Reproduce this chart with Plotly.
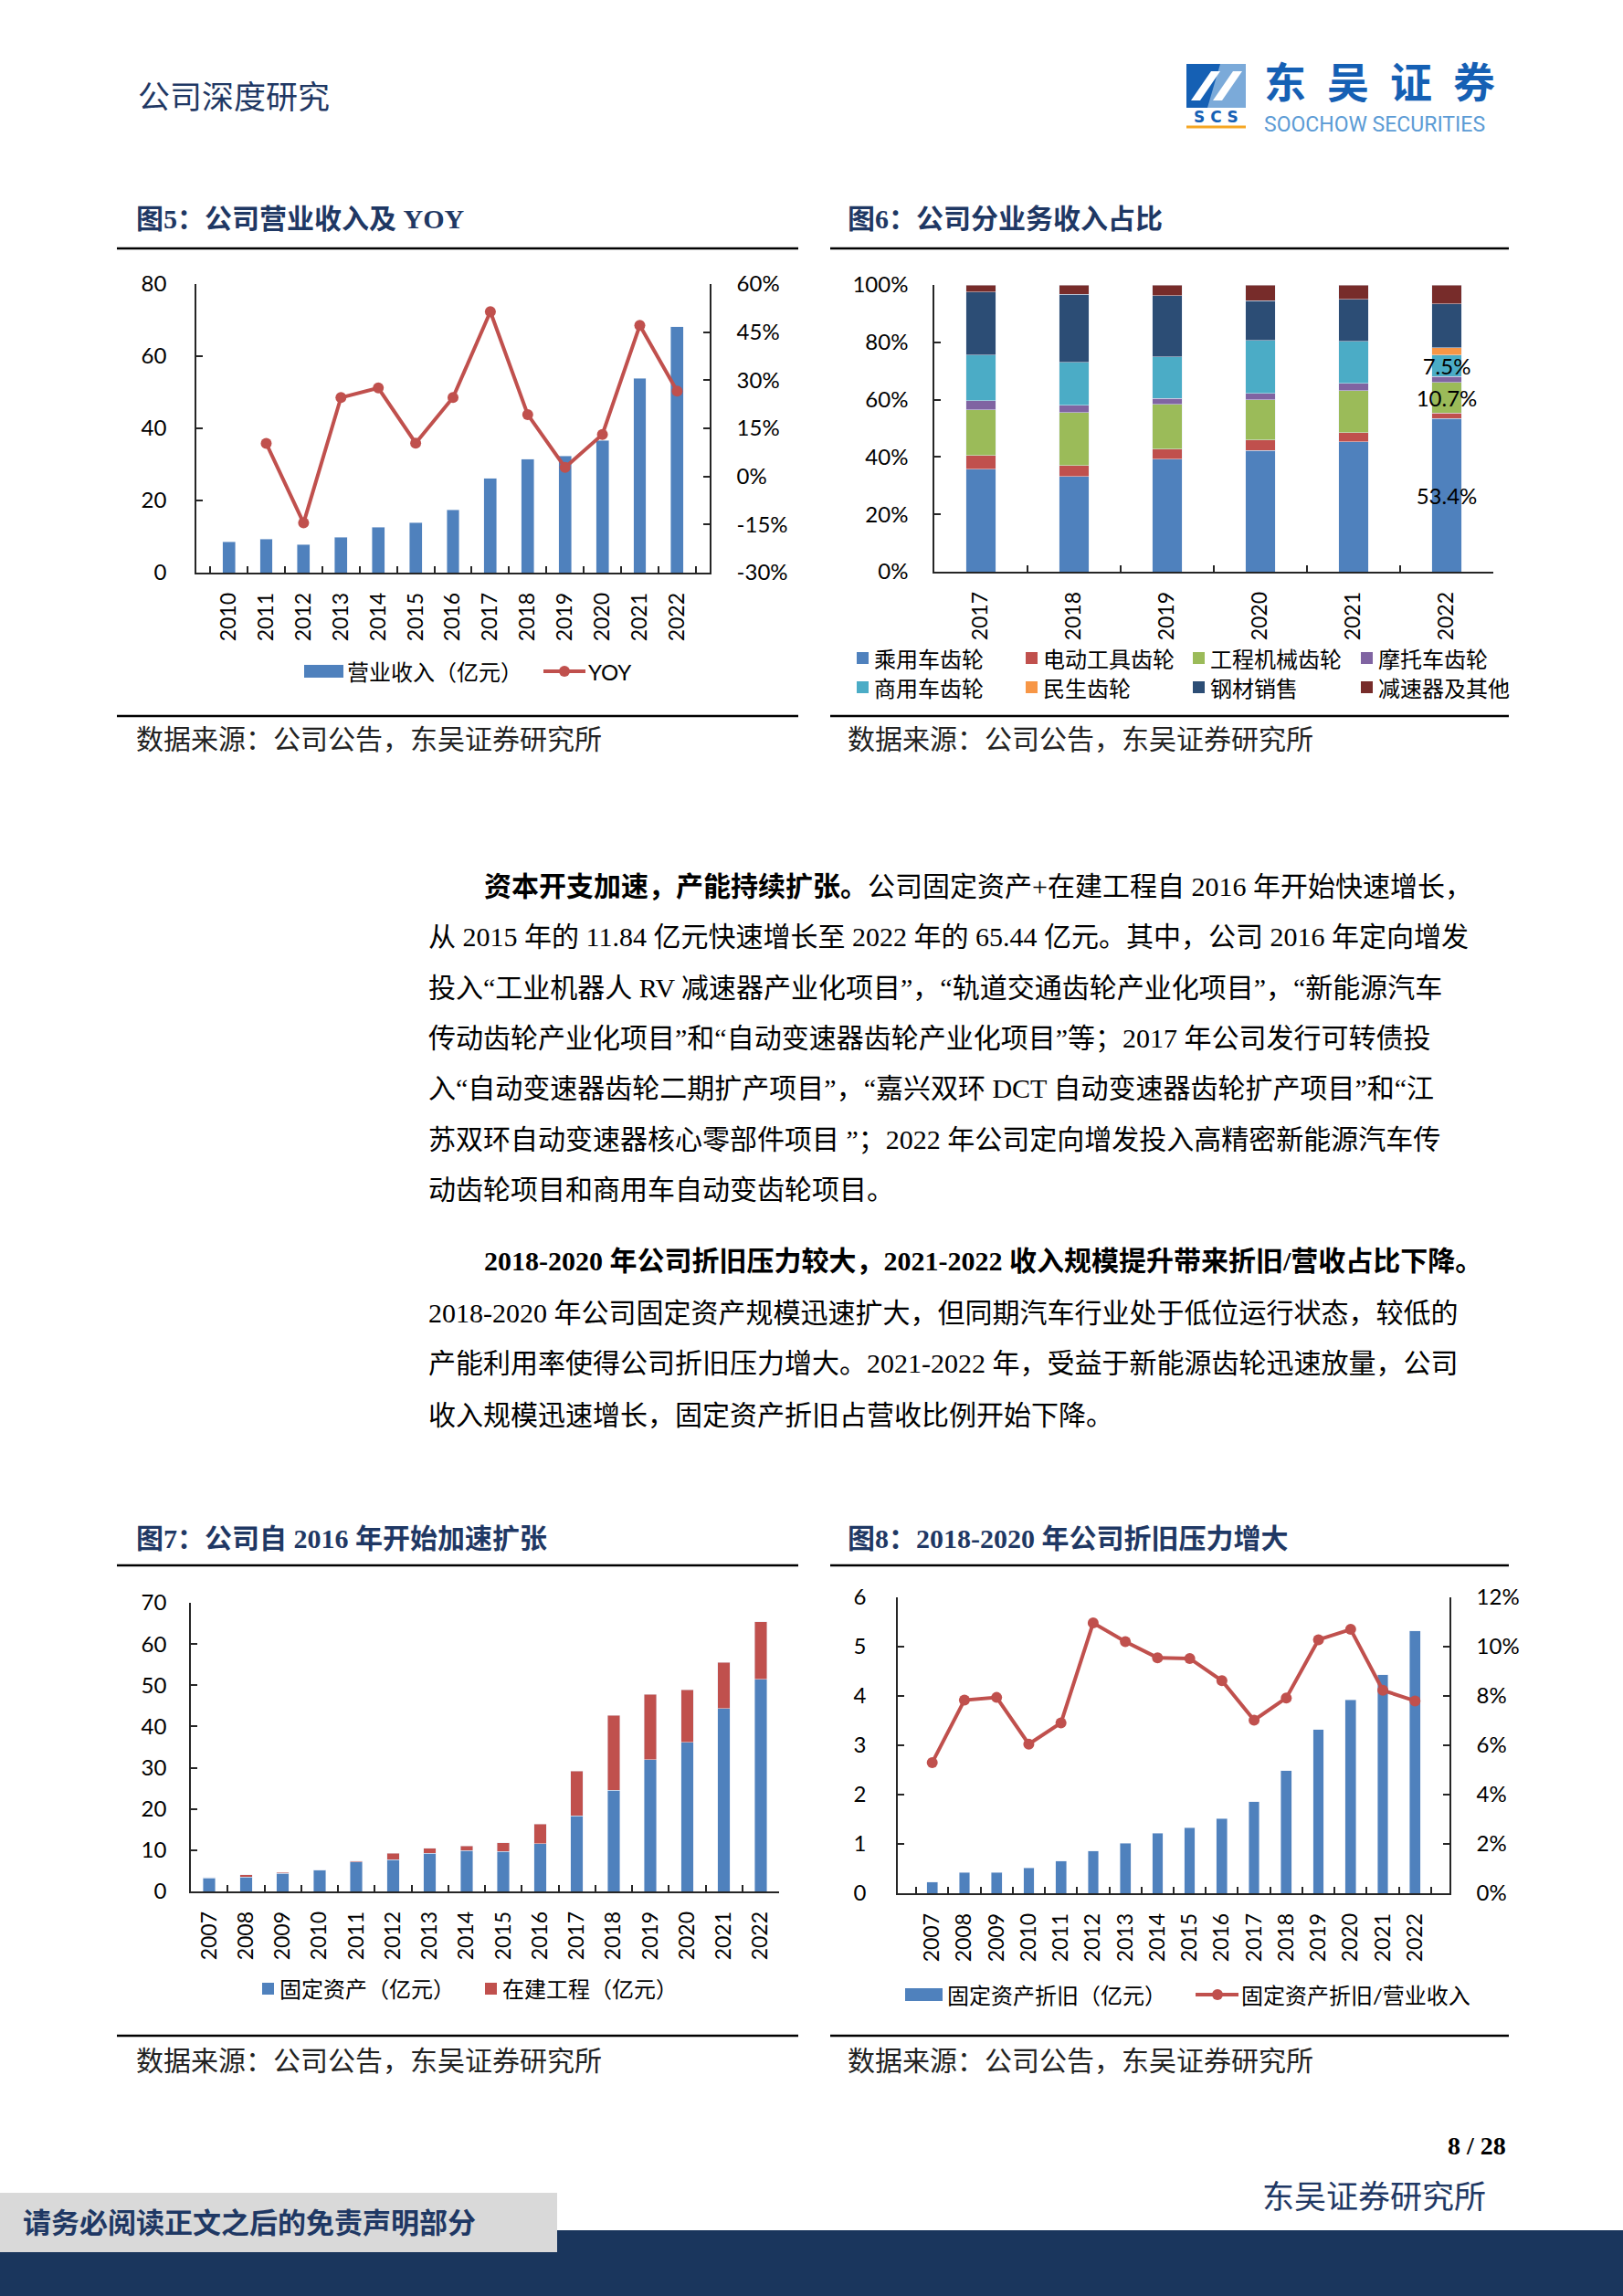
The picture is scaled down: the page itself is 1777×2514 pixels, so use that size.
import plotly.graph_objects as go

W, H = 1777, 2514

# ---------------- Figure 5 data ----------------
years5 = ["2010", "2011", "2012", "2013", "2014", "2015", "2016", "2017", "2018", "2019", "2020", "2021", "2022"]
revenue5 = [8.5, 9.3, 7.8, 9.8, 12.6, 13.8, 17.4, 26.2, 31.5, 32.3, 36.6, 53.9, 68.2]
yoy5 = [None, 10.3, -14.5, 24.6, 27.6, 10.4, 24.6, 51.4, 19.3, 2.8, 13.1, 47.1, 26.6]
y5_left_ticks = [0, 20, 40, 60, 80]
y5_right_ticks = [-30, -15, 0, 15, 30, 45, 60]
y5_right_text = ["-30%", "-15%", "0%", "15%", "30%", "45%", "60%"]

# ---------------- Figure 6 data ----------------
years6 = ["2017", "2018", "2019", "2020", "2021", "2022"]
seg_names = ["乘用车齿轮", "电动工具齿轮", "工程机械齿轮", "摩托车齿轮",
             "商用车齿轮", "民生齿轮", "钢材销售", "减速器及其他"]
passenger = [35.8, 33.2, 39.2, 42.2, 45.3, 53.4]
power_tool = [4.8, 3.8, 3.6, 3.8, 3.2, 1.9]
construction = [15.8, 18.5, 15.6, 13.9, 14.6, 10.7]
motorcycle = [3.2, 2.6, 2.1, 2.3, 2.6, 2.0]
commercial = [16.0, 14.9, 14.4, 18.5, 14.7, 7.5]
civil = [0.0, 0.0, 0.0, 0.0, 0.0, 2.6]
steel = [22.0, 23.7, 21.3, 13.8, 14.6, 15.3]
reducer = [2.4, 3.3, 3.8, 5.5, 5.0, 6.6]
seg_colors = ["#4F81BD", "#C0504D", "#9BBB59", "#8064A2",
              "#4BACC6", "#F79646", "#2C4D75", "#772C2A"]
labelled_segments = ["乘用车齿轮", "工程机械齿轮", "商用车齿轮"]
labelled_year = "2022"
y6_ticks = [0, 20, 40, 60, 80, 100]
y6_text = ["0%", "20%", "40%", "60%", "80%", "100%"]

# ---------------- Figure 7 data ----------------
years7 = ["2007", "2008", "2009", "2010", "2011", "2012", "2013", "2014",
          "2015", "2016", "2017", "2018", "2019", "2020", "2021", "2022"]
fixed_assets = [3.3, 3.5, 4.4, 5.1, 7.2, 7.7, 9.2, 9.9, 9.7, 11.6, 18.3, 24.5, 31.9, 36.2, 44.4, 51.4]
construction_ip = [0.1, 0.5, 0.2, 0.05, 0.2, 1.5, 1.3, 1.1, 2.14, 4.7, 10.9, 18.2, 15.9, 12.7, 11.2, 14.04]
y7_ticks = [0, 10, 20, 30, 40, 50, 60, 70]

# ---------------- Figure 8 data ----------------
years8 = years7
depreciation = [0.23, 0.42, 0.42, 0.51, 0.65, 0.86, 1.01, 1.22, 1.33, 1.51, 1.86, 2.49, 3.32, 3.92, 4.43, 5.32]
dep_ratio = [5.3, 7.83, 7.94, 6.05, 6.91, 10.96, 10.2, 9.55, 9.52, 8.62, 7.02, 7.92, 10.28, 10.70, 8.23, 7.8]
y8_left_ticks = [0, 1, 2, 3, 4, 5, 6]
y8_right_ticks = [0, 2, 4, 6, 8, 10, 12]
y8_right_text = ["0%", "2%", "4%", "6%", "8%", "10%", "12%"]

BLUE = "#4F81BD"
RED = "#C0504D"
NAVY = "#1F3864"
AXC = "#262626"
TICKFONT = "Lato, 'Noto Sans CJK SC', sans-serif"
CJK = "'Noto Sans CJK SC', sans-serif"
SERIF = "'Liberation Serif', 'Noto Sans CJK SC', serif"


def px(x):
    return x / W


def py(y):
    return 1 - y / H


def dom_x(a, b):
    return [a / W, b / W]


def dom_y(top, bottom):
    return [1 - bottom / H, 1 - top / H]


shapes = []
annotations = []


def rect(x0, y0, x1, y1, color):
    shapes.append(dict(type="rect", xref="paper", yref="paper", x0=px(x0), x1=px(x1),
                       y0=py(y1), y1=py(y0), fillcolor=color, line=dict(width=0), layer="above"))


def hline(x0, x1, y, color="#000000", width=2.5):
    shapes.append(dict(type="line", xref="paper", yref="paper", x0=px(x0), x1=px(x1),
                       y0=py(y), y1=py(y), line=dict(color=color, width=width), layer="above"))


def circle(cx, cy, r, color):
    shapes.append(dict(type="circle", xref="paper", yref="paper", x0=px(cx - r), x1=px(cx + r),
                       y0=py(cy + r), y1=py(cy - r), fillcolor=color, line=dict(width=0), layer="above"))


def path(points, color):
    d = "M" + " L".join(f"{px(a):.5f},{py(b):.5f}" for a, b in points) + " Z"
    shapes.append(dict(type="path", xref="paper", yref="paper", path=d, fillcolor=color,
                       line=dict(width=0), layer="above"))


def txt(x, y, s, size, color="#000000", family=CJK, xanchor="left", yanchor="middle"):
    annotations.append(dict(x=px(x), y=py(y), xref="paper", yref="paper", text=s, showarrow=False,
                            xanchor=xanchor, yanchor=yanchor, align="left", borderpad=0,
                            font=dict(size=size, color=color, family=family)))


fig = go.Figure()

# ---------- Figure 5 traces ----------
fig.add_trace(go.Bar(x=years5, y=revenue5, name="营业收入（亿元）", marker_color=BLUE, width=0.34,
                     xaxis="x", yaxis="y", showlegend=False))
fig.add_trace(go.Scatter(x=years5, y=yoy5, name="YOY", mode="lines+markers",
                         line=dict(color=RED, width=4), marker=dict(size=12, color=RED),
                         xaxis="x", yaxis="y2", showlegend=False, cliponaxis=False))

# ---------- Figure 6 traces ----------
seg_values = [passenger, power_tool, construction, motorcycle, commercial, civil, steel, reducer]
for name, vals, col in zip(seg_names, seg_values, seg_colors):
    texts = [f"{v:.1f}%" if (name in labelled_segments and yr == labelled_year) else ""
             for yr, v in zip(years6, vals)]
    fig.add_trace(go.Bar(x=years6, y=vals, name=name, marker_color=col, width=0.316,
                         text=texts, textposition="inside", textangle=0, constraintext="none",
                         insidetextanchor="middle",
                         textfont=dict(size=24, color="#000000", family=TICKFONT),
                         xaxis="x2", yaxis="y3", showlegend=False))

# ---------- Figure 7 traces ----------
fig.add_trace(go.Bar(x=years7, y=fixed_assets, name="固定资产（亿元）", marker_color=BLUE, width=0.34,
                     xaxis="x3", yaxis="y4", showlegend=False))
fig.add_trace(go.Bar(x=years7, y=construction_ip, name="在建工程（亿元）", marker_color=RED, width=0.34,
                     xaxis="x3", yaxis="y4", showlegend=False))

# ---------- Figure 8 traces ----------
fig.add_trace(go.Bar(x=years8, y=depreciation, name="固定资产折旧（亿元）", marker_color=BLUE, width=0.333,
                     xaxis="x4", yaxis="y5", showlegend=False))
fig.add_trace(go.Scatter(x=years8, y=dep_ratio, name="固定资产折旧/营业收入", mode="lines+markers",
                         line=dict(color=RED, width=4), marker=dict(size=12, color=RED),
                         xaxis="x4", yaxis="y6", showlegend=False, cliponaxis=False))

AX = dict(showline=True, linecolor=AXC, linewidth=1.5, ticks="inside", ticklen=7, tickcolor=AXC,
          tickwidth=1.5, showgrid=False, zeroline=False, automargin=False, fixedrange=True,
          tickfont=dict(family=TICKFONT, size=24, color="#000000"))
XAX = dict(AX, type="category", tickson="boundaries", tickangle=-90, ticklabelstandoff=11,
           tickfont=dict(family=TICKFONT, size=23, color="#000000"))

fig.update_layout(
    width=W, height=H, margin=dict(l=0, r=0, t=0, b=0), autosize=False,
    paper_bgcolor="white", plot_bgcolor="rgba(0,0,0,0)", barmode="stack", showlegend=False,
    # Figure 5
    xaxis=dict(XAX, domain=dom_x(215, 777), anchor="y"),
    yaxis=dict(AX, domain=dom_y(311, 627), anchor="x", range=[0, 80], tickvals=y5_left_ticks,
               ticklabelstandoff=26),
    yaxis2=dict(AX, overlaying="y", side="right", anchor="x", range=[-30, 60],
                tickvals=y5_right_ticks, ticktext=y5_right_text, ticklabelstandoff=23),
    # Figure 6
    xaxis2=dict(XAX, domain=dom_x(1023, 1635), anchor="y3"),
    yaxis3=dict(AX, domain=dom_y(312, 626), anchor="x2", range=[0, 100], tickvals=y6_ticks,
                ticktext=y6_text, ticklabelstandoff=22),
    # Figure 7
    xaxis3=dict(XAX, domain=dom_x(209, 853), anchor="y4"),
    yaxis4=dict(AX, domain=dom_y(1755, 2071), anchor="x3", range=[0, 70], tickvals=y7_ticks,
                ticklabelstandoff=20),
    # Figure 8
    xaxis4=dict(XAX, domain=dom_x(983, 1587), anchor="y5"),
    yaxis5=dict(AX, domain=dom_y(1749, 2073), anchor="x4", range=[0, 6], tickvals=y8_left_ticks,
                ticklabelstandoff=28),
    yaxis6=dict(AX, overlaying="y5", side="right", anchor="x4", range=[0, 12],
                tickvals=y8_right_ticks, ticktext=y8_right_text, ticklabelstandoff=23),
)

# ---------------- Page header ----------------
txt(150, 104, "公司深度研究", 35, NAVY)
# logo
rect(1299, 70, 1364, 118, "#1560B4")
path([(1336, 70), (1364, 70), (1364, 118), (1322, 118)], "#7BAAD9")
path([(1304, 110), (1326, 78), (1336, 78), (1314, 110)], "#FFFFFF")
path([(1328, 110), (1350, 78), (1360, 78), (1338, 110)], "#FFFFFF")
txt(1331, 128, "<b>S C S</b>", 17, "#1560B4", "'DejaVu Sans', sans-serif", xanchor="center")
hline(1299, 1364, 139, "#F5A623", 3)
txt(1383, 121, "<b>东\u2002吴\u2002证\u2002券</b>", 46, "#1560B4", CJK, yanchor="bottom")
txt(1383, 122, "SOOCHOW SECURITIES", 23, "#5B9BD5", "Roboto, sans-serif", yanchor="top")

# ---------------- Chart titles / rules / sources ----------------
TITLE_FONT = SERIF
txt(148, 240, "<b>图5：公司营业收入及 YOY</b>", 30, NAVY, TITLE_FONT)
txt(927, 240, "<b>图6：公司分业务收入占比</b>", 30, NAVY, TITLE_FONT)
txt(148, 1684, "<b>图7：公司自 2016 年开始加速扩张</b>", 30, NAVY, TITLE_FONT)
txt(927, 1684, "<b>图8：2018-2020 年公司折旧压力增大</b>", 30, NAVY, TITLE_FONT)
for yv in (272, 784):
    hline(128, 874, yv)
    hline(909, 1652, yv)
for yv in (1714, 2229):
    hline(128, 874, yv)
    hline(909, 1652, yv)
SRC = "数据来源：公司公告，东吴证券研究所"
txt(148, 810, SRC, 30, "#222222", SERIF)
txt(927, 810, SRC, 30, "#222222", SERIF)
txt(148, 2256, SRC, 30, "#222222", SERIF)
txt(927, 2256, SRC, 30, "#222222", SERIF)

# ---------------- Manual legends ----------------
# Figure 5
rect(333, 728, 376, 742, BLUE)
txt(379, 735, "营业收入（亿元）", 24, "#000000", TICKFONT)
hline(595, 641, 735, RED, 4)
circle(618, 735, 6, RED)
txt(643, 735, "YOY", 24, "#000000", TICKFONT)
# Figure 6
leg_x = [938, 1123, 1306, 1490]
leg_y = [721, 753]
for i, (name, col) in enumerate(zip(seg_names, seg_colors)):
    r, c = divmod(i, 4)
    x0, yc = leg_x[c], leg_y[r]
    rect(x0, yc - 7, x0 + 13, yc + 6, col)
    txt(x0 + 18, yc, name, 24, "#000000", TICKFONT)
# Figure 7
rect(287, 2171, 300, 2184, BLUE)
txt(305, 2177, "固定资产（亿元）", 24, "#000000", TICKFONT)
rect(531, 2171, 544, 2184, RED)
txt(549, 2177, "在建工程（亿元）", 24, "#000000", TICKFONT)
# Figure 8
rect(991, 2177, 1032, 2191, BLUE)
txt(1036, 2184, "固定资产折旧（亿元）", 24, "#000000", TICKFONT)
hline(1309, 1356, 2184, RED, 4)
circle(1333, 2184, 6, RED)
txt(1358, 2184, "固定资产折旧/营业收入", 24, "#000000", TICKFONT)

# ---------------- Body text ----------------
para1 = [
    "<b>资本开支加速，产能持续扩张。</b>公司固定资产+在建工程自 2016 年开始快速增长，",
    "从 2015 年的 11.84 亿元快速增长至 2022 年的 65.44 亿元。其中，公司 2016 年定向增发",
    "投入“工业机器人 RV 减速器产业化项目”，“轨道交通齿轮产业化项目”，“新能源汽车",
    "传动齿轮产业化项目”和“自动变速器齿轮产业化项目”等；2017 年公司发行可转债投",
    "入“自动变速器齿轮二期扩产项目”，“嘉兴双环 DCT 自动变速器齿轮扩产项目”和“江",
    "苏双环自动变速器核心零部件项目 ”；2022 年公司定向增发投入高精密新能源汽车传",
    "动齿轮项目和商用车自动变齿轮项目。",
]
para1_y = [970, 1025, 1081, 1136, 1191, 1247, 1302]
para2 = [
    "<b>2018-2020 年公司折旧压力较大，2021-2022 收入规模提升带来折旧/营收占比下降。</b>",
    "2018-2020 年公司固定资产规模迅速扩大，但同期汽车行业处于低位运行状态，较低的",
    "产能利用率使得公司折旧压力增大。2021-2022 年，受益于新能源齿轮迅速放量，公司",
    "收入规模迅速增长，固定资产折旧占营收比例开始下降。",
]
para2_y = [1380, 1437, 1493, 1549]
for i, (line, yv) in enumerate(zip(para1, para1_y)):
    txt(529 if i == 0 else 468, yv, line, 30, "#000000", SERIF)
for i, (line, yv) in enumerate(zip(para2, para2_y)):
    txt(529 if i == 0 else 468, yv, line, 30, "#000000", SERIF)

# ---------------- Footer ----------------
txt(1650, 2349, "<b>8 / 28</b>", 28, "#000000", SERIF, xanchor="right")
rect(0, 2442, W, 2514, "#1A365D")
rect(0, 2401, 610, 2466, "#D9D9D9")
txt(24, 2434, "<b>请务必阅读正文之后的免责声明部分</b>", 31, NAVY, SERIF)
txt(1381, 2406, "东吴证券研究所", 35, NAVY, SERIF)

fig.update_layout(shapes=shapes, annotations=annotations)
fig.write_html("out.html", include_plotlyjs=True, config={"displayModeBar": False},
               post_script="document.body.style.margin='0px';document.body.style.overflow='hidden';")
